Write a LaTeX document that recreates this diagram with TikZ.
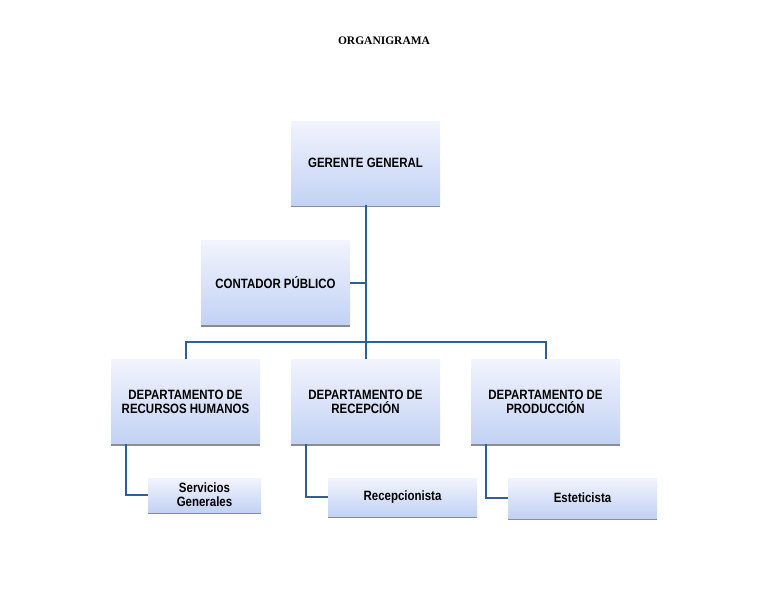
\documentclass[tikz,border=0pt]{standalone}
\usepackage{fontspec}
\usepackage{tikz}
\usetikzlibrary{shadows}
\newfontfamily\boxfont{Liberation Sans}[FakeStretch=0.85]
\newfontfamily\titlefont{Liberation Serif}
\definecolor{lineblue}{RGB}{50,95,145}
\definecolor{boxtop}{RGB}{242,244,253}
\definecolor{boxbottom}{RGB}{194,210,244}

\begin{document}
\begin{tikzpicture}[x=1pt, y=-1pt,
  puesto/.style={rectangle, top color=boxtop, bottom color=boxbottom, inner sep=0pt,
    minimum width=149pt, minimum height=84pt, align=center,
    font=\boxfont\bfseries\fontsize{13.5}{14}\selectfont,
    drop shadow={shadow xshift=0.3pt, shadow yshift=-2pt, fill=black!45, opacity=1}},
  cargo/.style={puesto, minimum height=37pt},
  linea/.style={lineblue, line width=2pt}]

\useasboundingbox (0,0) rectangle (768,594);

\node[font=\titlefont\bfseries\fontsize{11.5}{13}\selectfont] (titulo) at (384,41) {ORGANIGRAMA};

% nivel superior
\node[puesto] (gerente) at (365.5,163) {GERENTE GENERAL};
\node[puesto] (contador) at (275.5,282.5) {CONTADOR PÚBLICO};

% departamentos
\node[puesto] (rh) at (185.5,401.5) {DEPARTAMENTO DE\\RECURSOS HUMANOS};
\node[puesto] (recepcion) at (365.5,401.5) {DEPARTAMENTO DE\\RECEPCIÓN};
\node[puesto] (produccion) at (545.5,401.5) {DEPARTAMENTO DE\\PRODUCCIÓN};

% cargos
\node[cargo, minimum width=113pt, minimum height=34pt] (servicios) at (204.5,495) {Servicios\\Generales};
\node[cargo, minimum height=38pt] (recepcionista) at (402.5,497) {Recepcionista};
\node[cargo, minimum height=40pt] (esteticista) at (582.5,498) {Esteticista};

\coordinate (bus) at (365.5,342);

\draw[linea] (gerente.south) -- (bus);
\draw[linea] (contador.east) -- (contador.east -| gerente.south);
\draw[linea] (rh.north) |- (bus) -| (produccion.north);
\draw[linea] (bus) -- (recepcion.north);

\draw[linea] ([xshift=15pt]rh.south west) |- (servicios.west);
\draw[linea] ([xshift=15pt]recepcion.south west) |- (recepcionista.west);
\draw[linea] ([xshift=15pt]produccion.south west) |- (esteticista.west);
\end{tikzpicture}
\end{document}
